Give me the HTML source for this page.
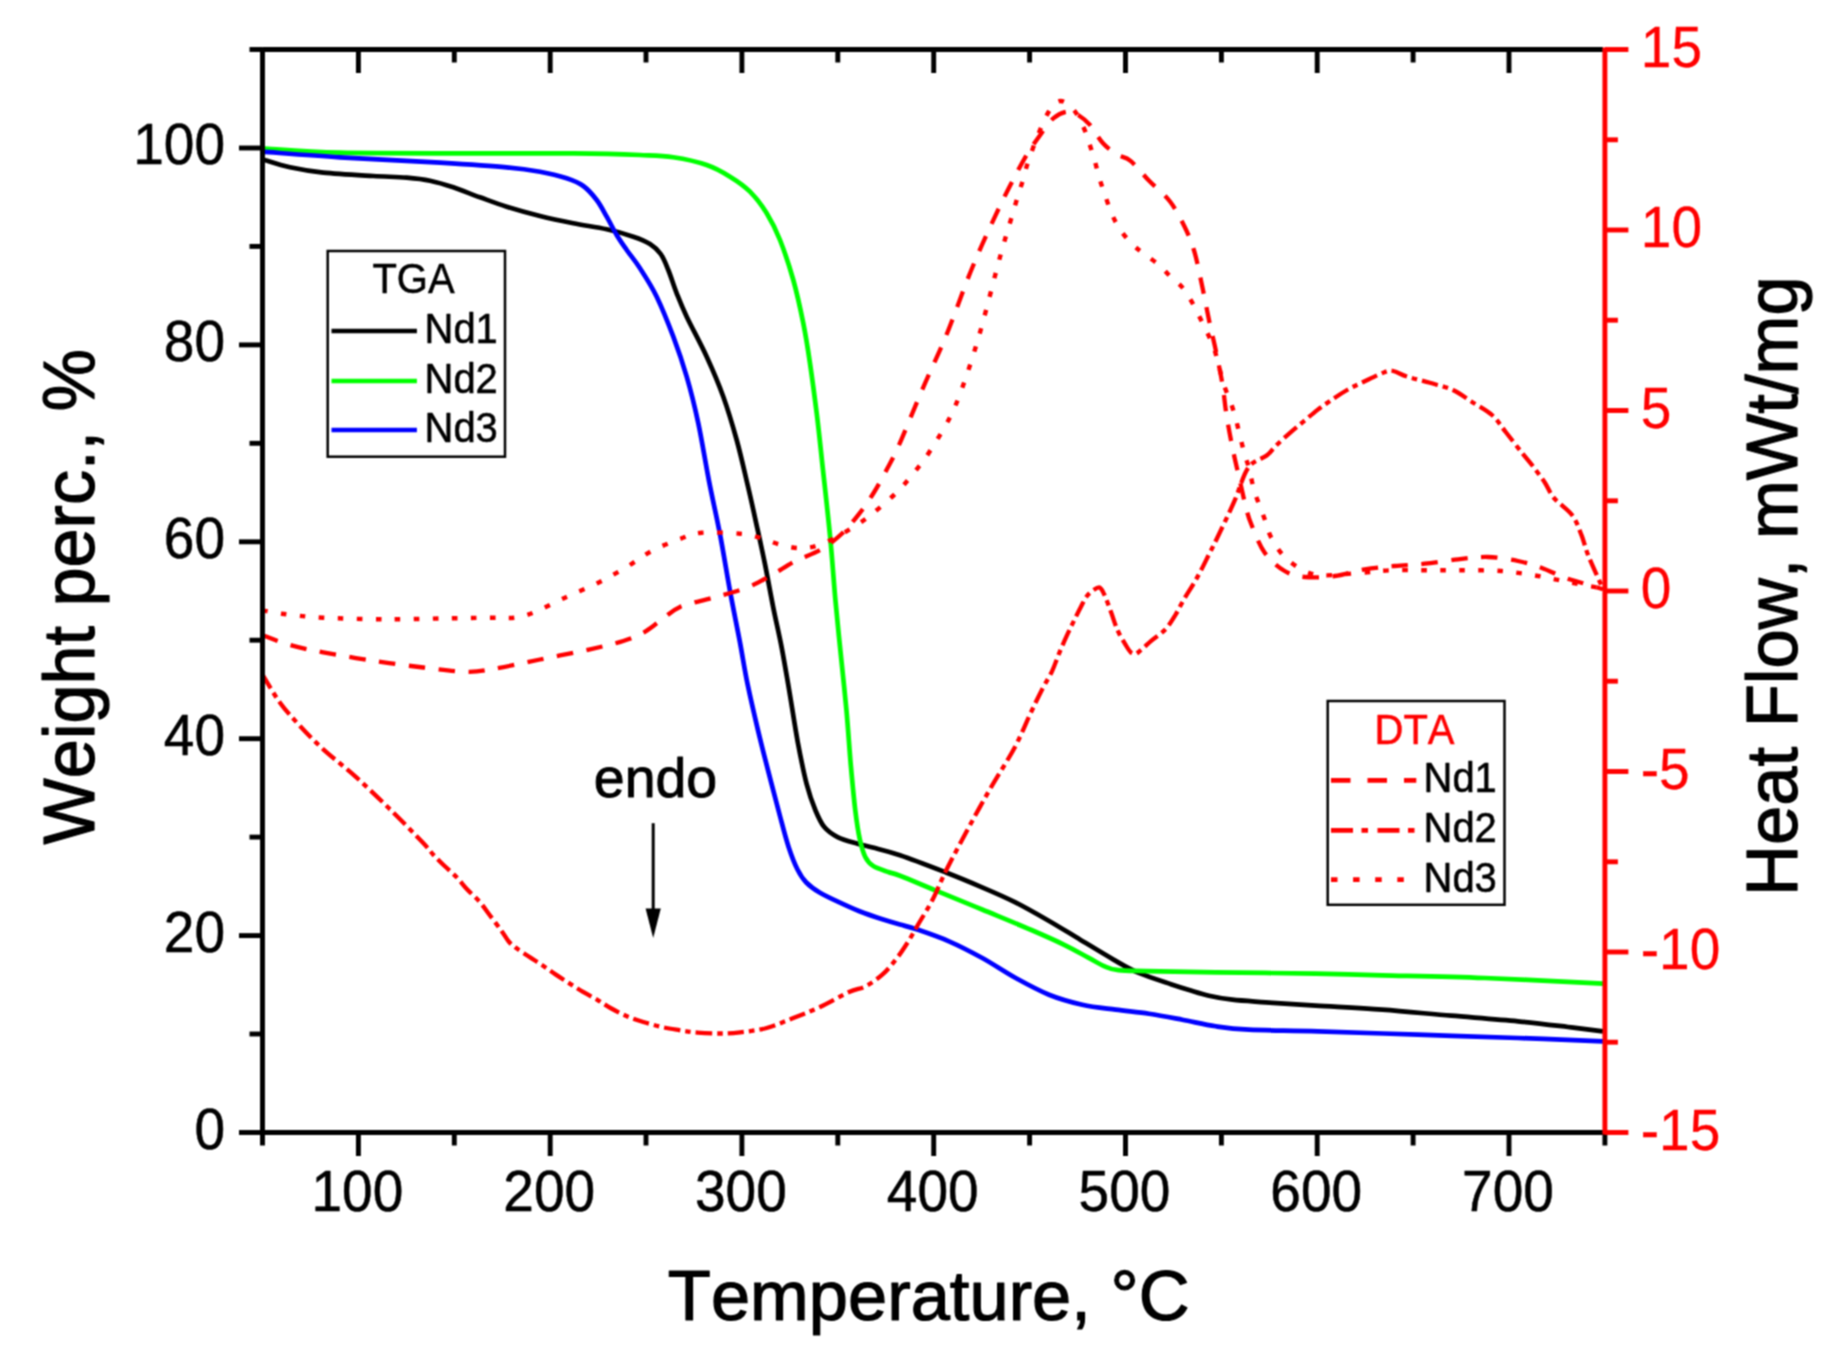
<!DOCTYPE html>
<html lang="en"><head><meta charset="utf-8"><title>TGA / DTA curves</title>
<style>
html,body{margin:0;padding:0;background:#fff;}
body{width:1827px;height:1354px;position:relative;overflow:hidden;}
</style></head><body>
<svg width="1827" height="1354" viewBox="0 0 1827 1354" style="display:block;position:absolute;left:0;top:0;font-kerning:none">
<defs><filter id="soft" x="0" y="0" width="1827" height="1354" filterUnits="userSpaceOnUse" color-interpolation-filters="sRGB"><feConvolveMatrix order="3" kernelMatrix="1 2 1 2 4 2 1 2 1" divisor="16" edgeMode="duplicate" preserveAlpha="false"/></filter></defs>
<g filter="url(#soft)">
<rect width="1827" height="1354" fill="#fff"/>
<g fill="none" stroke-width="4.7" stroke-linejoin="round">
<path stroke="#000" d="M262.3 159.3 C266.9 160.6 279.8 165.1 290.0 167.3 C300.2 169.5 309.4 171.2 323.3 172.7 C337.2 174.1 359.4 175.2 373.3 176.0 C387.2 176.8 397.2 176.9 406.7 177.7 C416.1 178.5 422.2 179.1 430.0 180.7 C437.8 182.3 445.0 184.5 453.3 187.3 C461.6 190.1 471.1 194.1 480.0 197.3 C488.9 200.5 496.7 203.6 506.7 206.7 C516.7 209.8 528.9 213.2 540.0 216.0 C551.1 218.8 562.2 221.1 573.3 223.3 C584.4 225.5 596.7 227.1 606.7 229.3 C616.7 231.5 626.1 234.2 633.3 236.7 C640.5 239.1 645.4 241.1 650.0 244.0 C654.6 246.9 657.7 249.7 660.7 254.0 C663.8 258.3 665.6 263.4 668.3 270.0 C671.0 276.6 673.6 285.5 676.7 293.3 C679.8 301.1 681.7 306.1 686.7 316.7 C691.7 327.3 700.6 343.4 706.7 356.7 C712.8 370.0 718.3 382.8 723.3 396.7 C728.3 410.6 732.8 425.9 736.7 440.0 C740.6 454.1 743.7 468.1 746.7 481.0 C749.8 493.9 752.0 503.8 755.0 517.7 C758.0 531.6 762.0 549.3 765.0 564.3 C768.0 579.3 770.5 593.8 773.3 607.7 C776.1 621.6 779.1 634.2 781.7 647.7 C784.3 661.2 786.2 672.9 788.9 688.6 C791.6 704.3 794.8 725.9 797.7 741.8 C800.7 757.7 803.6 772.4 806.6 783.9 C809.6 795.4 812.5 803.3 815.5 810.5 C818.5 817.7 820.6 822.7 824.3 827.1 C828.0 831.5 832.0 834.3 837.6 837.1 C843.2 839.9 851.7 842.0 857.6 843.7 C863.5 845.5 865.7 845.7 872.8 847.6 C879.9 849.5 887.8 851.1 900.0 855.3 C912.2 859.4 932.3 867.2 946.0 872.5 C959.7 877.8 970.6 882.4 982.1 887.3 C993.6 892.2 1004.0 896.6 1014.9 902.1 C1025.8 907.6 1036.8 913.9 1047.8 920.2 C1058.8 926.5 1069.6 933.3 1080.6 939.9 C1091.5 946.5 1103.9 954.1 1113.5 959.6 C1123.1 965.1 1128.5 968.6 1138.1 972.7 C1147.7 976.8 1162.2 981.3 1170.9 984.2 C1179.6 987.1 1183.7 988.4 1190.0 990.3 C1196.3 992.2 1202.0 994.1 1209.0 995.7 C1216.0 997.3 1222.8 998.6 1232.3 999.7 C1241.8 1000.8 1251.8 1001.3 1265.7 1002.3 C1279.6 1003.3 1296.3 1004.5 1315.7 1005.7 C1335.1 1006.9 1359.7 1008.0 1382.3 1009.7 C1404.9 1011.4 1428.7 1013.8 1451.3 1015.7 C1473.9 1017.6 1498.5 1019.4 1518.0 1021.3 C1537.5 1023.2 1553.8 1025.3 1568.0 1027.0 C1582.2 1028.7 1597.2 1030.6 1603.0 1031.3"/>
<path stroke="#00ff00" d="M262.3 148.3 C275.2 149.0 304.8 151.9 340.0 152.7 C375.2 153.5 434.4 153.2 473.3 153.3 C512.2 153.4 545.5 153.0 573.3 153.3 C601.1 153.6 623.3 154.3 640.0 155.0 C656.7 155.7 662.2 155.6 673.3 157.3 C684.4 159.0 697.2 161.8 706.7 165.0 C716.2 168.2 722.8 172.2 730.0 176.7 C737.2 181.1 743.9 185.6 750.0 191.7 C756.1 197.8 761.7 205.2 766.7 213.3 C771.7 221.4 775.6 228.9 780.0 240.0 C784.4 251.1 789.4 266.1 793.3 280.0 C797.2 293.9 800.5 309.4 803.3 323.3 C806.1 337.2 807.8 348.3 810.0 363.3 C812.2 378.3 814.7 397.2 816.7 413.3 C818.7 429.4 819.7 439.4 821.9 460.0 C824.1 480.6 827.9 513.3 830.1 536.6 C832.4 559.9 833.6 580.2 835.4 600.0 C837.2 619.8 839.0 636.9 840.9 655.4 C842.8 673.9 844.8 692.3 846.5 710.8 C848.2 729.3 849.4 749.6 850.9 766.2 C852.4 782.8 853.8 798.3 855.3 810.5 C856.8 822.7 858.1 831.5 859.8 839.3 C861.5 847.0 863.1 852.6 865.3 857.0 C867.5 861.4 869.3 863.4 873.1 865.9 C876.9 868.4 883.8 870.4 888.3 872.0 C892.8 873.6 892.0 872.7 900.0 875.8 C908.0 878.9 922.4 885.0 936.1 890.6 C949.8 896.2 966.2 902.9 982.1 909.5 C998.0 916.1 1017.7 924.1 1031.4 930.0 C1045.1 935.9 1054.6 940.1 1064.2 944.8 C1073.8 949.4 1082.0 954.3 1088.8 957.9 C1095.6 961.5 1100.4 964.5 1105.3 966.6 C1110.2 968.7 1111.6 969.5 1118.4 970.2 C1125.2 971.0 1130.1 970.8 1146.3 971.1 C1162.5 971.5 1187.5 971.9 1215.7 972.3 C1243.9 972.7 1287.9 973.2 1315.7 973.7 C1343.5 974.2 1354.1 974.6 1382.3 975.3 C1410.5 976.0 1447.9 976.6 1484.7 978.0 C1521.5 979.4 1583.3 982.8 1603.0 983.7"/>
<path stroke="#0000ff" d="M262.3 151.7 C275.2 152.6 310.4 155.5 340.0 157.3 C369.6 159.1 412.2 161.0 440.0 162.7 C467.8 164.4 490.0 165.8 506.7 167.3 C523.4 168.8 530.0 169.9 540.0 171.7 C550.0 173.5 559.5 175.9 566.7 178.3 C573.9 180.7 578.3 182.4 583.3 186.0 C588.3 189.6 592.8 194.9 596.7 200.0 C600.6 205.1 603.4 210.9 606.7 216.7 C610.0 222.5 613.4 229.4 616.7 235.0 C620.0 240.6 622.8 244.4 626.7 250.0 C630.6 255.6 635.0 260.5 640.0 268.3 C645.0 276.1 651.2 285.3 656.7 296.7 C662.2 308.1 668.3 323.4 673.3 336.7 C678.3 350.0 682.5 362.3 686.7 376.7 C690.9 391.1 694.6 405.9 698.3 423.3 C702.0 440.7 705.4 462.5 709.0 481.0 C712.6 499.5 716.5 516.0 720.0 534.3 C723.5 552.6 726.7 573.0 730.0 591.0 C733.3 609.0 737.0 626.5 739.9 642.0 C742.8 657.5 744.6 669.9 747.6 684.3 C750.6 698.7 754.1 713.8 757.6 728.6 C761.1 743.4 765.0 758.5 768.7 772.9 C772.4 787.3 776.4 802.6 779.7 815.0 C783.0 827.4 785.6 837.9 788.6 847.0 C791.6 856.1 794.5 863.6 797.5 869.5 C800.5 875.4 802.6 878.7 806.3 882.5 C810.0 886.3 814.4 889.4 819.6 892.5 C824.8 895.6 830.6 898.3 837.3 901.4 C843.9 904.5 852.1 908.3 859.5 911.3 C866.9 914.2 874.9 916.9 881.6 919.1 C888.4 921.3 894.3 923.0 900.0 924.6 C905.7 926.2 907.5 926.2 915.7 929.0 C923.9 931.8 937.9 936.5 949.0 941.3 C960.1 946.1 971.2 951.9 982.3 958.0 C993.4 964.1 1004.6 971.9 1015.7 978.0 C1026.8 984.1 1037.9 990.2 1049.0 994.7 C1060.1 999.2 1071.2 1002.2 1082.3 1004.7 C1093.4 1007.2 1104.6 1008.2 1115.7 1009.7 C1126.8 1011.2 1137.9 1012.0 1149.0 1013.7 C1160.1 1015.4 1171.2 1017.6 1182.3 1019.7 C1193.4 1021.8 1204.6 1024.6 1215.7 1026.3 C1226.8 1028.0 1232.0 1028.9 1249.0 1029.7 C1266.0 1030.5 1289.8 1030.5 1318.0 1031.3 C1346.2 1032.1 1384.7 1033.6 1418.0 1034.7 C1451.3 1035.8 1487.2 1036.9 1518.0 1038.0 C1548.8 1039.1 1588.8 1040.8 1603.0 1041.3"/>
<path stroke="#ff0000" stroke-width="4.3" stroke-dasharray="16.5 13.5" d="M262.3 635.0 C266.9 636.7 279.8 642.1 290.0 645.0 C300.2 647.9 309.4 649.7 323.3 652.3 C337.2 654.9 356.6 658.3 373.3 660.8 C390.0 663.3 407.7 665.7 423.3 667.5 C438.9 669.3 455.0 671.5 466.7 671.8 C478.4 672.0 481.1 671.0 493.3 669.0 C505.5 667.0 523.9 662.8 540.0 659.5 C556.1 656.2 576.1 652.4 590.0 649.3 C603.9 646.2 614.4 643.8 623.3 641.0 C632.2 638.2 637.2 636.0 643.3 632.7 C649.4 629.4 653.9 625.3 660.0 621.0 C666.1 616.7 671.1 610.9 680.0 607.0 C688.9 603.1 702.2 600.9 713.3 597.7 C724.4 594.5 737.0 591.5 746.7 587.7 C756.5 583.9 763.8 579.4 771.8 575.0 C779.8 570.6 786.3 565.8 794.5 561.5 C802.7 557.2 813.2 554.1 821.0 549.5 C828.8 544.9 835.1 540.0 841.5 534.0 C847.9 528.0 853.9 520.5 859.3 513.6 C864.7 506.7 869.3 499.9 873.9 492.5 C878.5 485.1 882.8 476.9 887.0 469.0 C891.2 461.1 893.4 457.6 899.0 445.0 C904.6 432.4 914.9 406.9 920.7 393.3 C926.5 379.7 929.8 372.7 934.0 363.3 C938.2 353.9 941.8 346.1 945.7 336.7 C949.6 327.3 953.7 316.1 957.3 306.7 C960.9 297.2 963.7 289.2 967.3 280.0 C970.9 270.8 975.2 260.6 979.0 251.7 C982.8 242.8 986.4 235.1 990.2 226.8 C994.0 218.5 998.1 209.9 1002.0 201.8 C1005.9 193.8 1009.7 186.3 1013.8 178.5 C1017.9 170.7 1022.3 162.1 1026.6 155.0 C1030.9 147.9 1035.0 142.2 1039.5 136.0 C1044.0 129.8 1048.8 122.2 1053.6 118.1 C1058.3 114.0 1064.0 112.0 1068.0 111.5 C1072.0 111.0 1074.3 112.6 1077.9 114.8 C1081.5 117.0 1085.6 120.0 1089.7 124.7 C1093.8 129.4 1098.2 138.0 1102.8 143.0 C1107.3 148.0 1112.4 151.5 1117.0 154.5 C1121.6 157.5 1125.2 156.4 1130.5 160.8 C1135.8 165.2 1142.5 174.0 1149.1 180.8 C1155.7 187.6 1164.3 194.1 1170.2 201.8 C1176.1 209.5 1180.6 218.6 1184.6 226.8 C1188.6 235.0 1191.2 241.0 1194.2 251.0 C1197.2 261.0 1199.8 275.2 1202.3 286.7 C1204.8 298.2 1206.8 309.4 1209.0 320.0 C1211.2 330.6 1213.5 339.4 1215.7 350.0 C1217.9 360.6 1220.5 372.5 1222.3 383.3 C1224.1 394.1 1224.8 404.2 1226.5 415.0 C1228.2 425.8 1230.4 437.5 1232.5 447.9 C1234.6 458.3 1236.9 467.7 1239.1 477.4 C1241.3 487.1 1243.6 498.1 1245.6 505.9 C1247.6 513.7 1248.1 516.5 1251.3 524.3 C1254.5 532.1 1259.1 544.9 1264.7 552.7 C1270.3 560.5 1278.0 567.0 1284.7 571.0 C1291.4 575.0 1296.4 576.2 1304.7 577.0 C1313.0 577.8 1324.7 577.3 1334.7 576.0 C1344.7 574.7 1354.7 571.0 1364.7 569.3 C1374.7 567.6 1384.7 566.9 1394.7 566.0 C1404.7 565.1 1414.2 564.8 1424.7 563.7 C1435.2 562.6 1447.5 560.4 1458.0 559.3 C1468.5 558.2 1478.0 556.7 1488.0 557.0 C1498.0 557.3 1509.1 559.2 1518.0 561.0 C1526.9 562.8 1533.5 564.9 1541.3 567.7 C1549.1 570.5 1558.0 575.2 1564.7 577.7 C1571.4 580.2 1574.9 580.8 1581.3 582.7 C1587.7 584.6 1599.4 588.2 1603.0 589.3"/>
<path stroke="#ff0000" stroke-width="4.3" stroke-dasharray="16.5 5 5.5 5" d="M262.3 674.3 C265.2 679.0 273.7 694.1 280.0 702.7 C286.3 711.3 292.8 718.2 300.0 726.0 C307.2 733.8 313.9 740.7 323.3 749.3 C332.8 757.9 345.6 767.7 356.7 777.7 C367.8 787.7 379.0 798.5 390.0 809.3 C401.0 820.0 415.3 834.7 422.5 842.2 C429.7 849.7 429.4 850.5 433.1 854.5 C436.8 858.5 440.6 862.2 444.6 866.0 C448.6 869.8 453.2 873.7 456.9 877.5 C460.6 881.3 463.0 884.9 466.8 889.0 C470.6 893.1 476.1 897.7 479.9 902.1 C483.7 906.5 486.1 910.3 489.8 915.2 C493.5 920.1 499.0 927.3 502.1 931.7 C505.2 936.1 506.5 938.9 508.7 941.5 C510.9 944.1 511.9 944.8 515.2 947.3 C518.5 949.8 523.9 953.3 528.4 956.3 C532.9 959.3 537.8 962.3 542.3 965.3 C546.8 968.3 551.0 971.4 555.5 974.4 C560.0 977.4 564.9 980.5 569.4 983.4 C573.9 986.3 578.0 988.9 582.6 991.6 C587.2 994.3 592.6 997.1 597.3 999.8 C601.9 1002.5 605.6 1005.3 610.5 1008.0 C615.4 1010.7 621.4 1013.9 626.9 1016.2 C632.4 1018.5 637.5 1020.2 643.3 1022.0 C649.0 1023.8 655.4 1025.5 661.4 1026.9 C667.4 1028.3 673.4 1029.2 679.4 1030.2 C685.4 1031.2 690.7 1032.0 697.5 1032.6 C704.3 1033.1 712.9 1033.5 720.0 1033.5 C727.1 1033.5 732.2 1033.2 740.0 1032.3 C747.8 1031.4 757.8 1030.4 766.7 1028.0 C775.6 1025.6 784.4 1021.5 793.3 1018.0 C802.2 1014.5 810.7 1011.3 820.0 1007.0 C829.3 1002.7 841.4 995.5 849.0 992.0 C856.6 988.5 860.2 989.2 865.7 986.3 C871.2 983.4 877.3 979.1 882.3 974.7 C887.3 970.3 891.5 965.0 895.7 959.7 C899.9 954.4 903.4 949.1 907.3 943.0 C911.2 936.9 914.7 930.3 919.0 923.0 C923.3 915.7 928.4 907.9 932.9 899.1 C937.4 890.3 940.3 882.1 946.2 870.3 C952.1 858.5 960.9 841.9 968.3 828.2 C975.7 814.5 982.7 801.8 990.5 788.3 C998.3 774.8 1008.5 759.1 1015.0 746.9 C1021.5 734.7 1025.3 724.5 1029.8 714.9 C1034.3 705.3 1038.4 696.6 1042.1 689.4 C1045.8 682.1 1049.3 677.1 1052.0 671.4 C1054.7 665.6 1056.2 660.5 1058.5 654.9 C1060.8 649.3 1063.4 643.2 1065.9 637.7 C1068.4 632.2 1070.8 627.2 1073.3 622.1 C1075.8 617.0 1078.5 611.5 1080.7 607.3 C1082.9 603.1 1084.4 599.5 1086.4 596.7 C1088.5 593.9 1090.8 592.0 1093.0 590.5 C1095.2 589.0 1097.7 586.9 1099.6 587.6 C1101.5 588.4 1102.6 590.9 1104.5 595.0 C1106.4 599.1 1108.9 606.4 1111.1 612.3 C1113.3 618.2 1115.1 624.8 1117.6 630.3 C1120.0 635.8 1123.6 641.4 1125.8 645.1 C1128.0 648.8 1129.2 650.9 1130.8 652.3 C1132.4 653.7 1134.1 653.7 1135.5 653.6 C1136.9 653.5 1136.2 653.9 1139.0 651.7 C1141.8 649.5 1147.7 643.9 1152.1 640.2 C1156.5 636.5 1161.5 633.6 1165.3 629.5 C1169.1 625.4 1172.0 620.6 1175.1 615.5 C1178.2 610.4 1181.1 604.3 1184.1 599.1 C1187.1 593.9 1190.3 589.2 1193.2 584.3 C1196.1 579.4 1198.7 574.8 1201.4 569.6 C1204.1 564.4 1207.1 558.0 1209.6 553.1 C1212.1 548.2 1212.0 548.7 1216.2 540.0 C1220.4 531.3 1229.2 513.0 1234.5 500.9 C1239.8 488.8 1242.9 475.2 1248.3 467.6 C1253.7 460.0 1262.1 459.1 1266.7 455.5 C1271.3 451.9 1272.1 449.4 1275.9 445.7 C1279.7 442.0 1285.1 437.1 1289.7 433.1 C1294.3 429.1 1298.8 425.4 1303.4 421.6 C1308.0 417.8 1312.6 413.7 1317.2 410.1 C1321.8 406.6 1326.0 403.7 1331.0 400.3 C1336.0 396.9 1341.7 393.1 1347.1 390.0 C1352.5 386.9 1357.1 384.9 1363.2 382.0 C1369.3 379.1 1378.9 374.2 1383.9 372.4 C1388.9 370.6 1389.3 370.3 1393.1 371.0 C1396.9 371.7 1400.8 374.5 1406.9 376.5 C1413.0 378.5 1422.2 380.6 1429.9 382.8 C1437.6 385.1 1446.0 386.9 1452.9 390.0 C1459.8 393.1 1464.8 397.3 1471.3 401.5 C1477.8 405.7 1486.3 409.9 1492.0 415.0 C1497.7 420.1 1500.7 425.7 1505.7 432.0 C1510.7 438.3 1517.2 446.8 1521.8 452.6 C1526.4 458.4 1529.5 461.8 1533.3 466.8 C1537.1 471.8 1541.3 477.3 1544.8 482.5 C1548.2 487.7 1549.4 492.5 1554.0 498.0 C1558.6 503.5 1567.8 509.3 1572.4 515.5 C1577.0 521.7 1578.9 528.6 1581.6 535.4 C1584.3 542.2 1584.9 547.2 1588.5 556.1 C1592.1 565.0 1600.6 583.5 1603.0 589.0"/>
<path stroke="#ff0000" stroke-width="4.4" stroke-dasharray="5.6 13.4" d="M262.3 610.3 C265.5 610.9 271.5 612.5 281.7 613.7 C291.9 614.9 305.8 616.8 323.3 617.7 C340.8 618.6 365.6 619.2 386.7 619.3 C407.8 619.4 432.2 618.6 450.0 618.3 C467.8 618.0 482.5 617.8 493.3 617.7 C504.1 617.6 508.3 618.5 515.0 617.7 C521.7 616.9 525.0 616.0 533.3 612.7 C541.6 609.4 554.2 602.7 565.0 597.7 C575.8 592.7 588.0 587.8 598.3 582.7 C608.6 577.6 617.8 572.3 626.7 567.0 C635.6 561.7 642.5 555.8 651.7 551.0 C660.9 546.2 673.4 541.3 681.7 538.3 C690.0 535.2 692.0 533.5 701.7 532.7 C711.4 531.9 729.9 532.8 740.0 533.7 C750.1 534.6 755.7 536.5 762.2 538.3 C768.7 540.1 773.2 542.7 779.2 544.3 C785.2 545.9 791.8 547.9 798.3 548.1 C804.8 548.3 811.0 547.6 818.0 545.4 C825.0 543.2 833.1 538.7 840.0 535.0 C846.9 531.3 854.4 526.4 859.6 523.0 C864.8 519.6 867.0 517.9 871.1 514.7 C875.2 511.5 879.9 507.5 884.2 503.8 C888.5 500.1 892.9 496.2 896.8 492.3 C900.7 488.4 904.4 484.2 907.8 480.3 C911.2 476.4 914.0 472.7 917.1 468.8 C920.2 464.9 921.8 463.4 926.3 456.7 C930.8 449.9 939.1 436.9 944.0 428.3 C948.9 419.7 951.8 414.2 955.7 405.0 C959.6 395.8 963.5 384.4 967.3 373.3 C971.1 362.2 974.8 350.2 978.3 338.3 C981.8 326.4 985.0 314.2 988.3 301.7 C991.6 289.2 995.8 272.6 998.3 263.3 C1000.8 254.1 1001.4 251.8 1003.0 246.2 C1004.6 240.6 1006.2 235.3 1007.9 229.8 C1009.5 224.3 1011.2 218.6 1012.9 213.0 C1014.5 207.4 1016.1 201.9 1017.8 196.3 C1019.5 190.7 1021.4 185.3 1023.1 179.6 C1024.8 173.9 1025.5 169.5 1028.0 162.1 C1030.5 154.7 1034.5 143.5 1038.0 135.0 C1041.5 126.5 1045.3 117.0 1049.0 111.3 C1052.7 105.6 1056.2 101.2 1060.4 101.0 C1064.6 100.8 1070.2 105.9 1074.0 110.2 C1077.8 114.5 1080.7 121.3 1083.2 126.6 C1085.7 131.9 1086.9 136.2 1088.8 141.8 C1090.7 147.4 1092.8 154.2 1094.6 160.2 C1096.3 166.2 1097.6 172.2 1099.3 177.9 C1101.0 183.6 1102.7 188.3 1104.8 194.3 C1106.9 200.3 1109.2 208.1 1111.8 214.0 C1114.4 219.9 1116.9 224.8 1120.3 229.8 C1123.7 234.9 1128.5 240.4 1132.4 244.3 C1136.3 248.2 1139.2 250.1 1143.6 253.5 C1148.0 256.9 1154.5 261.1 1159.0 265.0 C1163.5 268.9 1166.8 273.0 1170.7 276.7 C1174.6 280.4 1178.8 283.1 1182.3 287.3 C1185.8 291.5 1188.8 296.7 1191.7 301.7 C1194.6 306.7 1197.1 312.1 1199.7 317.3 C1202.3 322.5 1204.9 327.5 1207.3 332.7 C1209.7 337.9 1212.0 342.6 1214.0 348.3 C1216.0 354.0 1217.3 360.6 1219.0 366.7 C1220.7 372.8 1222.0 378.9 1224.0 385.0 C1226.0 391.1 1228.9 397.4 1230.9 403.0 C1232.9 408.6 1234.2 413.2 1235.8 418.9 C1237.3 424.5 1238.8 431.1 1240.2 436.9 C1241.7 442.7 1243.0 448.4 1244.5 453.9 C1246.0 459.4 1248.0 463.9 1249.5 469.8 C1251.0 475.7 1252.1 483.4 1253.8 489.5 C1255.5 495.6 1257.9 500.9 1259.9 506.4 C1261.9 511.9 1264.0 517.1 1265.9 522.3 C1267.8 527.5 1268.2 531.9 1271.3 537.7 C1274.4 543.5 1279.1 551.5 1284.7 557.0 C1290.3 562.5 1298.0 568.0 1304.7 571.0 C1311.4 574.0 1315.3 575.0 1324.7 575.3 C1334.1 575.6 1350.2 573.5 1361.3 572.7 C1372.4 571.9 1380.7 570.7 1391.3 570.3 C1401.9 569.9 1413.0 570.3 1424.7 570.3 C1436.4 570.3 1448.5 570.2 1461.3 570.3 C1474.1 570.4 1488.5 570.0 1501.3 571.0 C1514.1 572.0 1526.3 574.0 1538.0 576.0 C1549.7 578.0 1560.5 580.6 1571.3 582.7 C1582.1 584.8 1597.7 587.5 1603.0 588.5"/>
</g>
<g stroke="#000" stroke-width="4.9" fill="none">
<line x1="262.5" y1="47.5" x2="262.5" y2="1134.5"/>
<line x1="262.5" y1="49.5" x2="1602.9" y2="49.5"/>
<line x1="262.5" y1="1132.5" x2="1602.9" y2="1132.5"/>
<line x1="239" y1="1132.5" x2="262.5" y2="1132.5"/>
<line x1="249.5" y1="1034.0" x2="262.5" y2="1034.0"/>
<line x1="239" y1="935.6" x2="262.5" y2="935.6"/>
<line x1="249.5" y1="837.1" x2="262.5" y2="837.1"/>
<line x1="239" y1="738.7" x2="262.5" y2="738.7"/>
<line x1="249.5" y1="640.2" x2="262.5" y2="640.2"/>
<line x1="239" y1="541.8" x2="262.5" y2="541.8"/>
<line x1="249.5" y1="443.3" x2="262.5" y2="443.3"/>
<line x1="239" y1="344.9" x2="262.5" y2="344.9"/>
<line x1="249.5" y1="246.4" x2="262.5" y2="246.4"/>
<line x1="239" y1="148.0" x2="262.5" y2="148.0"/>
<line x1="249.5" y1="49.5" x2="262.5" y2="49.5"/>
<line x1="262.5" y1="1132.5" x2="262.5" y2="1145.5"/>
<line x1="358.4" y1="1132.5" x2="358.4" y2="1156"/>
<line x1="358.4" y1="49.5" x2="358.4" y2="73"/>
<line x1="454.3" y1="1132.5" x2="454.3" y2="1145.5"/>
<line x1="454.3" y1="49.5" x2="454.3" y2="62.5"/>
<line x1="550.2" y1="1132.5" x2="550.2" y2="1156"/>
<line x1="550.2" y1="49.5" x2="550.2" y2="73"/>
<line x1="646.0" y1="1132.5" x2="646.0" y2="1145.5"/>
<line x1="646.0" y1="49.5" x2="646.0" y2="62.5"/>
<line x1="741.9" y1="1132.5" x2="741.9" y2="1156"/>
<line x1="741.9" y1="49.5" x2="741.9" y2="73"/>
<line x1="837.8" y1="1132.5" x2="837.8" y2="1145.5"/>
<line x1="837.8" y1="49.5" x2="837.8" y2="62.5"/>
<line x1="933.7" y1="1132.5" x2="933.7" y2="1156"/>
<line x1="933.7" y1="49.5" x2="933.7" y2="73"/>
<line x1="1029.6" y1="1132.5" x2="1029.6" y2="1145.5"/>
<line x1="1029.6" y1="49.5" x2="1029.6" y2="62.5"/>
<line x1="1125.5" y1="1132.5" x2="1125.5" y2="1156"/>
<line x1="1125.5" y1="49.5" x2="1125.5" y2="73"/>
<line x1="1221.4" y1="1132.5" x2="1221.4" y2="1145.5"/>
<line x1="1221.4" y1="49.5" x2="1221.4" y2="62.5"/>
<line x1="1317.2" y1="1132.5" x2="1317.2" y2="1156"/>
<line x1="1317.2" y1="49.5" x2="1317.2" y2="73"/>
<line x1="1413.1" y1="1132.5" x2="1413.1" y2="1145.5"/>
<line x1="1413.1" y1="49.5" x2="1413.1" y2="62.5"/>
<line x1="1509.0" y1="1132.5" x2="1509.0" y2="1156"/>
<line x1="1509.0" y1="49.5" x2="1509.0" y2="73"/>
<line x1="1604.9" y1="1132.5" x2="1604.9" y2="1145.5"/>
</g>
<g stroke="#ff0000" stroke-width="4.9" fill="none">
<line x1="1604.9" y1="47.5" x2="1604.9" y2="1134.5"/>
<line x1="1604.9" y1="1132.5" x2="1628.4" y2="1132.5"/>
<line x1="1604.9" y1="1042.2" x2="1617.9" y2="1042.2"/>
<line x1="1604.9" y1="952.0" x2="1628.4" y2="952.0"/>
<line x1="1604.9" y1="861.8" x2="1617.9" y2="861.8"/>
<line x1="1604.9" y1="771.5" x2="1628.4" y2="771.5"/>
<line x1="1604.9" y1="681.2" x2="1617.9" y2="681.2"/>
<line x1="1604.9" y1="591.0" x2="1628.4" y2="591.0"/>
<line x1="1604.9" y1="500.8" x2="1617.9" y2="500.8"/>
<line x1="1604.9" y1="410.5" x2="1628.4" y2="410.5"/>
<line x1="1604.9" y1="320.2" x2="1617.9" y2="320.2"/>
<line x1="1604.9" y1="230.0" x2="1628.4" y2="230.0"/>
<line x1="1604.9" y1="139.8" x2="1617.9" y2="139.8"/>
<line x1="1604.9" y1="49.5" x2="1628.4" y2="49.5"/>
</g>
<text transform="translate(225.0 1148.8) scale(1 1.04)" font-family="Liberation Sans, Arial, sans-serif" font-size="55" text-anchor="end" fill="#000" stroke="#000" stroke-width="0.5" stroke-linejoin="round">0</text>
<text transform="translate(225.0 951.9) scale(1 1.04)" font-family="Liberation Sans, Arial, sans-serif" font-size="55" text-anchor="end" fill="#000" stroke="#000" stroke-width="0.5" stroke-linejoin="round">20</text>
<text transform="translate(225.0 755.0) scale(1 1.04)" font-family="Liberation Sans, Arial, sans-serif" font-size="55" text-anchor="end" fill="#000" stroke="#000" stroke-width="0.5" stroke-linejoin="round">40</text>
<text transform="translate(225.0 558.0) scale(1 1.04)" font-family="Liberation Sans, Arial, sans-serif" font-size="55" text-anchor="end" fill="#000" stroke="#000" stroke-width="0.5" stroke-linejoin="round">60</text>
<text transform="translate(225.0 361.1) scale(1 1.04)" font-family="Liberation Sans, Arial, sans-serif" font-size="55" text-anchor="end" fill="#000" stroke="#000" stroke-width="0.5" stroke-linejoin="round">80</text>
<text transform="translate(225.0 164.2) scale(1 1.04)" font-family="Liberation Sans, Arial, sans-serif" font-size="55" text-anchor="end" fill="#000" stroke="#000" stroke-width="0.5" stroke-linejoin="round">100</text>
<text transform="translate(357.4 1211.0) scale(1 1.04)" font-family="Liberation Sans, Arial, sans-serif" font-size="55" text-anchor="middle" fill="#000" stroke="#000" stroke-width="0.5" stroke-linejoin="round">100</text>
<text transform="translate(549.2 1211.0) scale(1 1.04)" font-family="Liberation Sans, Arial, sans-serif" font-size="55" text-anchor="middle" fill="#000" stroke="#000" stroke-width="0.5" stroke-linejoin="round">200</text>
<text transform="translate(740.9 1211.0) scale(1 1.04)" font-family="Liberation Sans, Arial, sans-serif" font-size="55" text-anchor="middle" fill="#000" stroke="#000" stroke-width="0.5" stroke-linejoin="round">300</text>
<text transform="translate(932.7 1211.0) scale(1 1.04)" font-family="Liberation Sans, Arial, sans-serif" font-size="55" text-anchor="middle" fill="#000" stroke="#000" stroke-width="0.5" stroke-linejoin="round">400</text>
<text transform="translate(1124.5 1211.0) scale(1 1.04)" font-family="Liberation Sans, Arial, sans-serif" font-size="55" text-anchor="middle" fill="#000" stroke="#000" stroke-width="0.5" stroke-linejoin="round">500</text>
<text transform="translate(1316.2 1211.0) scale(1 1.04)" font-family="Liberation Sans, Arial, sans-serif" font-size="55" text-anchor="middle" fill="#000" stroke="#000" stroke-width="0.5" stroke-linejoin="round">600</text>
<text transform="translate(1508.0 1211.0) scale(1 1.04)" font-family="Liberation Sans, Arial, sans-serif" font-size="55" text-anchor="middle" fill="#000" stroke="#000" stroke-width="0.5" stroke-linejoin="round">700</text>
<text transform="translate(1640.8 1149.9) scale(1 1.04)" font-family="Liberation Sans, Arial, sans-serif" font-size="55" text-anchor="start" fill="#ff0000" stroke="#ff0000" stroke-width="0.25" stroke-linejoin="round">-15</text>
<text transform="translate(1640.8 969.4) scale(1 1.04)" font-family="Liberation Sans, Arial, sans-serif" font-size="55" text-anchor="start" fill="#ff0000" stroke="#ff0000" stroke-width="0.25" stroke-linejoin="round">-10</text>
<text transform="translate(1640.8 788.9) scale(1 1.04)" font-family="Liberation Sans, Arial, sans-serif" font-size="55" text-anchor="start" fill="#ff0000" stroke="#ff0000" stroke-width="0.25" stroke-linejoin="round">-5</text>
<text transform="translate(1640.8 608.4) scale(1 1.04)" font-family="Liberation Sans, Arial, sans-serif" font-size="55" text-anchor="start" fill="#ff0000" stroke="#ff0000" stroke-width="0.25" stroke-linejoin="round">0</text>
<text transform="translate(1640.8 427.9) scale(1 1.04)" font-family="Liberation Sans, Arial, sans-serif" font-size="55" text-anchor="start" fill="#ff0000" stroke="#ff0000" stroke-width="0.25" stroke-linejoin="round">5</text>
<text transform="translate(1640.8 247.4) scale(1 1.04)" font-family="Liberation Sans, Arial, sans-serif" font-size="55" text-anchor="start" fill="#ff0000" stroke="#ff0000" stroke-width="0.25" stroke-linejoin="round">10</text>
<text transform="translate(1640.8 66.9) scale(1 1.04)" font-family="Liberation Sans, Arial, sans-serif" font-size="55" text-anchor="start" fill="#ff0000" stroke="#ff0000" stroke-width="0.25" stroke-linejoin="round">15</text>
<text transform="translate(928.7 1320.0) scale(1 1.005)" font-family="Liberation Sans, Arial, sans-serif" font-size="70.5" text-anchor="middle" fill="#000" stroke="#000" stroke-width="1.2" stroke-linejoin="round">Temperature, °C</text>
<text transform="translate(94.4 596.7) rotate(-90) scale(1 1.02)" font-family="Liberation Sans, Arial, sans-serif" font-size="70.2" text-anchor="middle" fill="#000" stroke="#000" stroke-width="1.2" stroke-linejoin="round">Weight perc., %</text>
<text transform="translate(1797.0 586.2) rotate(-90) scale(1 1.02)" font-family="Liberation Sans, Arial, sans-serif" font-size="70.6" text-anchor="middle" fill="#000" stroke="#000" stroke-width="1.2" stroke-linejoin="round">Heat Flow, mWt/mg</text>
<text transform="translate(655.5 796.5)" font-family="Liberation Sans, Arial, sans-serif" font-size="55.5" text-anchor="middle" fill="#000" stroke="#000" stroke-width="0.9" stroke-linejoin="round">endo</text>
<line x1="653.2" y1="823.2" x2="653.2" y2="912" stroke="#000" stroke-width="3"/>
<path d="M645.6 908.5 L660.8 908.5 L653.2 938 Z" fill="#000"/>
<rect x="327.7" y="251" width="177.3" height="205.7" fill="#fff" stroke="#000" stroke-width="2.5"/>
<text transform="translate(413.5 293.3) scale(1 1.04)" font-family="Liberation Sans, Arial, sans-serif" font-size="40" text-anchor="middle" fill="#000" stroke="#000" stroke-width="0.5" stroke-linejoin="round">TGA</text>
<line x1="331.5" y1="331" x2="416.9" y2="331" stroke="#000" stroke-width="4.7"/>
<text transform="translate(424.5 342.7) scale(1 1.04)" font-family="Liberation Sans, Arial, sans-serif" font-size="40" text-anchor="start" fill="#000" stroke="#000" stroke-width="0.5" stroke-linejoin="round">Nd1</text>
<line x1="331.5" y1="381" x2="416.9" y2="381" stroke="#00ff00" stroke-width="4.7"/>
<text transform="translate(424.5 392.7) scale(1 1.04)" font-family="Liberation Sans, Arial, sans-serif" font-size="40" text-anchor="start" fill="#000" stroke="#000" stroke-width="0.5" stroke-linejoin="round">Nd2</text>
<line x1="331.5" y1="430" x2="416.9" y2="430" stroke="#0000ff" stroke-width="4.7"/>
<text transform="translate(424.5 442.3) scale(1 1.04)" font-family="Liberation Sans, Arial, sans-serif" font-size="40" text-anchor="start" fill="#000" stroke="#000" stroke-width="0.5" stroke-linejoin="round">Nd3</text>
<rect x="1327.7" y="701" width="176.8" height="203.8" fill="#fff" stroke="#000" stroke-width="2.5"/>
<text transform="translate(1414.5 743.5) scale(1 1.04)" font-family="Liberation Sans, Arial, sans-serif" font-size="40" text-anchor="middle" fill="#ff0000" stroke="#ff0000" stroke-width="0.5" stroke-linejoin="round">DTA</text>
<line x1="1331" y1="780.4" x2="1416.3" y2="780.4" stroke="#ff0000" stroke-width="4.7" stroke-dasharray="19.5 17"/>
<text transform="translate(1423.5 792.4) scale(1 1.04)" font-family="Liberation Sans, Arial, sans-serif" font-size="40" text-anchor="start" fill="#000" stroke="#000" stroke-width="0.5" stroke-linejoin="round">Nd1</text>
<line x1="1331" y1="830.3" x2="1416.3" y2="830.3" stroke="#ff0000" stroke-width="4.7" stroke-dasharray="22 8.5 6.5 9.5"/>
<text transform="translate(1423.5 842.4) scale(1 1.04)" font-family="Liberation Sans, Arial, sans-serif" font-size="40" text-anchor="start" fill="#000" stroke="#000" stroke-width="0.5" stroke-linejoin="round">Nd2</text>
<line x1="1331" y1="879.6" x2="1416.3" y2="879.6" stroke="#ff0000" stroke-width="4.7" stroke-dasharray="6.5 15.6"/>
<text transform="translate(1423.5 891.7) scale(1 1.04)" font-family="Liberation Sans, Arial, sans-serif" font-size="40" text-anchor="start" fill="#000" stroke="#000" stroke-width="0.5" stroke-linejoin="round">Nd3</text>
</g>
</svg>
</body></html>
